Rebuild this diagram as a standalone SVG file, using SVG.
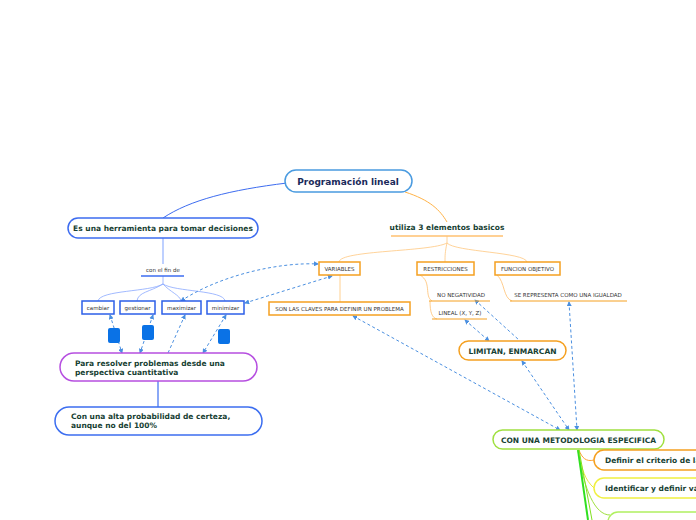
<svg xmlns="http://www.w3.org/2000/svg" width="696" height="520" viewBox="0 0 696 520">
<defs>
<style>
text{font-family:"DejaVu Sans","Liberation Sans",sans-serif;fill:#173f33}
.b{font-weight:bold;font-size:7.5px}
.s{font-size:5.5px;fill:#333}
.d{fill:none;stroke:#4a8fe0;stroke-width:1;stroke-dasharray:3,2.5}
.bx{fill:#fff;stroke-width:1.5}
</style>
<marker id="a" viewBox="0 0 6 6" refX="5" refY="3" markerWidth="5" markerHeight="5" orient="auto-start-reverse"><path d="M0,0L6,3L0,6z" fill="#4a8fe0"/></marker>
</defs>
<rect width="696" height="520" fill="#fff"/>
<g id="connectors" fill="none">
<path d="M287,183 C230,190 190,200 163,218" stroke="#3d6cf0" stroke-width="1"/>
<path d="M405,192 C430,200 440,210 447,222" stroke="#ffb347" stroke-width="1"/>
<path d="M163,238 V264" stroke="#a8c0ff" stroke-width="1.5"/>
<path d="M163,276 V284 M163,284 C150,292 100,290 98,301 M163,284 C150,292 138,292 137,301 M163,284 C170,292 180,295 181,301 M163,284 C175,292 224,290 225,301" stroke="#8aa8ff" stroke-width="0.8"/>
<path d="M158,381 V407" stroke="#3c6ef0" stroke-width="1.2"/>
<path d="M447,236 V243 M447,243 C430,252 340,250 339,262 M447,243 C445,252 445,256 445,262 M447,243 C455,252 525,252 527,262" stroke="#ffc880" stroke-width="0.8"/>
<path d="M340,275 V302" stroke="#ffd090" stroke-width="1"/>
<path d="M420,275 C432,282 424,296 432,301 M430,301 C430,312 432,318 437,319" stroke="#ffc070" stroke-width="0.8"/>
<path d="M497,275 C505,282 503,298 512,301" stroke="#ffc070" stroke-width="0.8"/>
<path d="M579,450 C582,458 586,462 594,460" stroke="#ffa030" stroke-width="1"/>
<path d="M578,450 C582,470 585,480 594,488" stroke="#e8e840" stroke-width="1"/>
<path d="M578,450 C584,490 595,515 610,515" stroke="#a0e040" stroke-width="1"/>
<path d="M578,450 L588,520" stroke="#30e020" stroke-width="2"/>
<path d="M579,450 L592,520" stroke="#80e020" stroke-width="1"/>
<path class="d" d="M181,301 C220,275 280,262 318,264" marker-start="url(#a)" marker-end="url(#a)"/>
<path class="d" d="M245,303 L332,276" marker-start="url(#a)" marker-end="url(#a)"/>
<path class="d" d="M110,315 L122,353" marker-start="url(#a)" marker-end="url(#a)"/>
<path class="d" d="M153,315 L140,353" marker-start="url(#a)" marker-end="url(#a)"/>
<path class="d" d="M185,315 L168,353" marker-start="url(#a)"/>
<path class="d" d="M226,315 L203,353" marker-start="url(#a)" marker-end="url(#a)"/>
<path class="d" d="M353,316 L560,430" marker-start="url(#a)" marker-end="url(#a)"/>
<path class="d" d="M475,300 L519,340" marker-start="url(#a)"/>
<path class="d" d="M465,320 L489,341" marker-start="url(#a)" marker-end="url(#a)"/>
<path class="d" d="M522,361 L569,430" marker-start="url(#a)" marker-end="url(#a)"/>
<path class="d" d="M569,302 L577,430" marker-start="url(#a)" marker-end="url(#a)"/>
</g>
<g id="n-prog"><rect x="285" y="170" width="127" height="22" rx="11" class="bx" stroke="#4a9be0"/><text x="348" y="184.5" text-anchor="middle" style="font-weight:bold;font-size:9px;fill:#1a2a5a">Programación lineal</text></g>
<g id="n-herr"><rect x="68" y="218" width="190" height="20" rx="10" class="bx" stroke="#3d6cf0"/><text x="163" y="231" text-anchor="middle" class="b">Es una herramienta para tomar decisiones</text></g>
<g id="n-fin"><text x="163" y="272" text-anchor="middle" class="s">con el fin de</text><line x1="141" y1="276" x2="184" y2="276" stroke="#3d6cf0" stroke-width="1.5"/></g>
<g id="n-cambiar"><rect x="82" y="301" width="32" height="13" class="bx" stroke="#2d5fe8"/><text x="98" y="310" text-anchor="middle" class="s">cambiar</text></g>
<g id="n-gest"><rect x="120" y="301" width="35" height="13" class="bx" stroke="#2d5fe8"/><text x="137.5" y="310" text-anchor="middle" class="s">gestionar</text></g>
<g id="n-max"><rect x="162" y="301" width="39" height="13" class="bx" stroke="#2d5fe8"/><text x="181.5" y="310" text-anchor="middle" class="s">maximizar</text></g>
<g id="n-min"><rect x="207" y="301" width="37" height="13" class="bx" stroke="#2d5fe8"/><text x="225.5" y="310" text-anchor="middle" class="s">minimizar</text></g>
<g id="n-sq"><rect x="108" y="328" width="12" height="15" rx="2" fill="#0a72e6"/><rect x="142" y="325" width="12" height="15" rx="2" fill="#0a72e6"/><rect x="218" y="329" width="12" height="15" rx="2" fill="#0a72e6"/></g>
<g id="n-resolver"><rect x="60" y="353" width="197" height="28" rx="14" class="bx" stroke="#b64fe0"/><text x="75" y="365.5" class="b">Para resolver problemas desde una</text><text x="75" y="374.5" class="b">perspectiva cuantitativa</text></g>
<g id="n-certeza"><rect x="55" y="407" width="207" height="28" rx="14" class="bx" stroke="#3c6ef0"/><text x="71" y="419" class="b">Con una alta probabilidad de certeza,</text><text x="71" y="428" class="b">aunque no del 100%</text></g>
<g id="n-utiliza"><text x="447" y="230" text-anchor="middle" class="b">utiliza 3 elementos basicos</text><line x1="391" y1="236" x2="503" y2="236" stroke="#ffc070" stroke-width="1.5"/></g>
<g id="n-var"><rect x="319" y="262" width="41" height="13" class="bx" stroke="#f5a020"/><text x="339.5" y="271" text-anchor="middle" class="s">VARIABLES</text></g>
<g id="n-restr"><rect x="417" y="262" width="57" height="13" class="bx" stroke="#f5a020"/><text x="445.5" y="271" text-anchor="middle" class="s">RESTRICCIONES</text></g>
<g id="n-func"><rect x="495" y="262" width="65" height="13" class="bx" stroke="#f5a020"/><text x="527.5" y="271" text-anchor="middle" class="s">FUNCION OBJETIVO</text></g>
<g id="n-claves"><rect x="269" y="302" width="141" height="13" class="bx" stroke="#f5a020"/><text x="339.5" y="311" text-anchor="middle" class="s">SON LAS CLAVES PARA DEFINIR UN PROBLEMA</text></g>
<g id="n-noneg"><text x="461" y="297" text-anchor="middle" class="s">NO NEGATIVIDAD</text><line x1="429" y1="301" x2="490" y2="301" stroke="#f5a020"/></g>
<g id="n-lineal"><text x="460" y="315" text-anchor="middle" class="s">LINEAL (X, Y, Z)</text><line x1="432" y1="319" x2="487" y2="319" stroke="#f5a020"/></g>
<g id="n-igual"><text x="568" y="297" text-anchor="middle" class="s">SE REPRESENTA COMO UNA IGUALDAD</text><line x1="510" y1="301" x2="627" y2="301" stroke="#f5a020"/></g>
<g id="n-limitan"><rect x="459" y="341" width="107" height="19" rx="9.5" class="bx" stroke="#f5a020"/><text x="512.5" y="353.5" text-anchor="middle" class="b">LIMITAN, ENMARCAN</text></g>
<g id="n-metod"><rect x="493" y="430" width="171" height="19" rx="9.5" class="bx" stroke="#a0e040"/><text x="578.5" y="442.5" text-anchor="middle" class="b">CON UNA METODOLOGIA ESPECIFICA</text></g>
<g id="n-def"><rect x="594" y="450" width="130" height="20" rx="10" class="bx" stroke="#f5a020"/><text x="605" y="463" class="b">Definir el criterio de la</text></g>
<g id="n-ident"><rect x="594" y="478" width="130" height="20" rx="10" class="bx" stroke="#f0f040"/><text x="605" y="491" class="b">Identificar y definir variables</text></g>
<g id="n-third"><rect x="608" y="512" width="120" height="20" rx="10" class="bx" stroke="#b0f060"/></g>
</svg>
